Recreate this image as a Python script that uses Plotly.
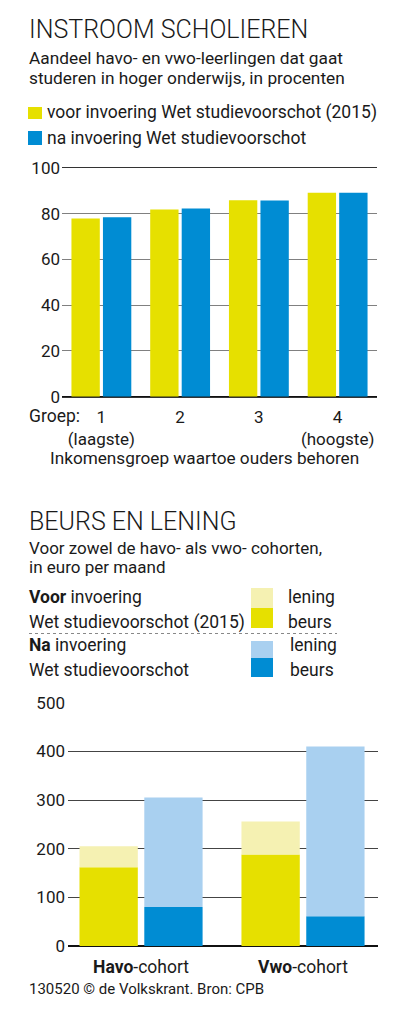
import plotly.graph_objects as go

W, H = 394, 1018

# ---- data: top chart ----
groups = ["1", "2", "3", "4"]
group_ticktext = ["1<br>(laagste)", "2", "3", "4<br>(hoogste)"]
voor_pct = [77.9, 81.9, 85.9, 89.2]
na_pct = [78.5, 82.3, 85.8, 89.2]

# ---- data: bottom chart ----
cohorts = ["Havo", "Vwo"]
cohort_ticktext = ["<b>Havo</b>-cohort", "<b>Vwo</b>-cohort"]
voor_beurs = [162, 188]
voor_lening = [43, 68]
na_beurs = [80, 61]
na_lening = [225, 349]

YELLOW = "#E6E000"
BLUE = "#008CD3"
PALE_YELLOW = "#F5F1B2"
PALE_BLUE = "#A9D0F0"
FONT = "Roboto"
TXT = "#1a1a1a"


def px(x):
    return x / W


def py(y):
    return 1 - y / H


fig = go.Figure()

fig.add_trace(go.Bar(x=groups, y=voor_pct, marker=dict(color=YELLOW, line=dict(width=0)),
                     xaxis="x", yaxis="y", showlegend=False))
fig.add_trace(go.Bar(x=groups, y=na_pct, marker=dict(color=BLUE, line=dict(width=0)),
                     xaxis="x", yaxis="y", showlegend=False))

fig.add_trace(go.Bar(x=cohorts, y=voor_beurs, offsetgroup="voor", marker=dict(color=YELLOW, line=dict(width=0)),
                     xaxis="x2", yaxis="y2", showlegend=False))
fig.add_trace(go.Bar(x=cohorts, y=voor_lening, base=voor_beurs, offsetgroup="voor",
                     marker=dict(color=PALE_YELLOW, line=dict(width=0)),
                     xaxis="x2", yaxis="y2", showlegend=False))
fig.add_trace(go.Bar(x=cohorts, y=na_beurs, offsetgroup="na", marker=dict(color=BLUE, line=dict(width=0)),
                     xaxis="x2", yaxis="y2", showlegend=False))
fig.add_trace(go.Bar(x=cohorts, y=na_lening, base=na_beurs, offsetgroup="na",
                     marker=dict(color=PALE_BLUE, line=dict(width=0)),
                     xaxis="x2", yaxis="y2", showlegend=False))

fig.update_layout(
    width=W, height=H, margin=dict(l=0, r=0, t=0, b=0, autoexpand=False),
    paper_bgcolor="white", plot_bgcolor="white", showlegend=False,
    font=dict(family=FONT, size=16, color=TXT),
    barmode="group", bargap=0.2, bargroupgap=0.1,
    xaxis=dict(domain=[px(62), px(377)], anchor="y", type="category", automargin=False,
               tickmode="array", tickvals=groups, ticktext=group_ticktext,
               showgrid=False, zeroline=False, showline=True, mirror=True,
               linecolor="#333", linewidth=1, ticks="", ticklabelstandoff=5,
               tickfont=dict(size=17), range=[-0.5, 3.5]),
    yaxis=dict(domain=[py(396.7), py(168)], anchor="x", range=[0, 100], automargin=False,
               tickvals=[0, 20, 40, 60, 80, 100], showgrid=True, gridcolor="#808080",
               gridwidth=1, zeroline=True, zerolinecolor="#111", zerolinewidth=2,
               ticks="", tickfont=dict(size=17), showline=False, ticklabelstandoff=1),
    xaxis2=dict(domain=[px(68), px(378)], anchor="y2", type="category", automargin=False,
                tickmode="array", tickvals=cohorts, ticktext=cohort_ticktext,
                showgrid=False, zeroline=False, showline=False, ticks="", ticklabelstandoff=8,
                tickfont=dict(size=17.5), range=[-0.451, 1.463]),
    yaxis2=dict(domain=[py(946), py(702.7)], anchor="x2", range=[0, 500], automargin=False,
                tickvals=[0, 100, 200, 300, 400, 500], showgrid=True, gridcolor="#444",
                gridwidth=1, zeroline=True, zerolinecolor="#111", zerolinewidth=2,
                ticks="", tickfont=dict(size=17), showline=False, ticklabelstandoff=2),
)

ann = []
shapes = []


def text(x, y, s, size, anchor="left", weight=None, color=TXT):
    f = dict(family=FONT, size=size, color=color)
    if weight:
        f["weight"] = weight
    ann.append(dict(x=px(x), y=py(y), xref="paper", yref="paper", text=s, showarrow=False,
                    xanchor=anchor, yanchor="middle", font=f, align="left"))


def rect(x0, y0, x1, y1, color):
    shapes.append(dict(type="rect", xref="paper", yref="paper", x0=px(x0), x1=px(x1),
                       y0=py(y1), y1=py(y0), fillcolor=color, line=dict(width=0)))


# Top section
text(27, 30, "INSTROOM SCHOLIEREN", 25, weight=300)
text(27, 58, "Aandeel havo- en vwo-leerlingen dat gaat", 17.3)
text(27, 78, "studeren in hoger onderwijs, in procenten", 17.3)
rect(28, 107, 42, 119, YELLOW)
text(45, 113, "voor invoering Wet studievoorschot (2015)", 17.5)
rect(28, 131, 42, 145, BLUE)
text(45, 138, "na invoering Wet studievoorschot", 17.5)
text(27, 416, "Groep:", 17.5)
text(205, 458, "Inkomensgroep waartoe ouders behoren", 17.2, anchor="center")

# Bottom section
text(27, 521, "BEURS EN LENING", 25, weight=300)
text(27, 548, "Voor zowel de havo- als vwo- cohorten,", 17)
text(27, 567, "in euro per maand", 17)
text(27, 597, "<b>Voor</b> invoering", 17.5)
text(27, 622, "Wet studievoorschot (2015)", 17.5)
text(27, 645, "<b>Na</b> invoering", 17.5)
text(27, 670, "Wet studievoorschot", 17.5)
rect(251, 588, 273, 608, PALE_YELLOW)
rect(251, 608, 273, 628, YELLOW)
rect(251, 641, 273, 658, PALE_BLUE)
rect(251, 658, 273, 677, BLUE)
text(286, 597, "lening", 17.5)
text(286, 622, "beurs", 17.5)
text(288, 645, "lening", 17.5)
text(288, 670, "beurs", 17.5)
shapes.append(dict(type="line", xref="paper", yref="paper", x0=px(29), x1=px(337),
                   y0=py(633.5), y1=py(633.5), line=dict(color="#888", width=1, dash="dot")))
text(27, 989, "130520 © de Volkskrant. Bron: CPB", 15)

fig.update_layout(annotations=ann, shapes=shapes)
fig.write_html("out.html")
